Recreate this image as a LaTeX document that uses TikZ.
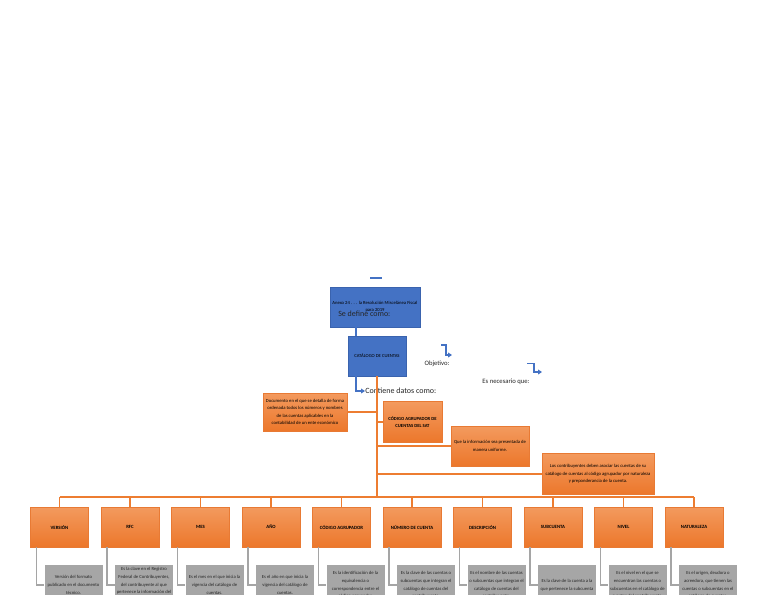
\documentclass[tikz,border=0pt]{standalone}
\usepackage{fontspec}
\setmainfont{Carlito}
\usetikzlibrary{arrows.meta,shadings}
\definecolor{blueC}{HTML}{4472C4}
\definecolor{blueD}{HTML}{3A63AE}
\definecolor{orC}{HTML}{ED7D31}
\definecolor{orT}{HTML}{F39A5E}
\definecolor{orB}{HTML}{EC772B}
\definecolor{orD}{HTML}{E87A34}
\definecolor{greyC}{HTML}{A6A6A6}
\definecolor{greyL}{HTML}{A5A5A5}
\tikzset{
  tiny/.style={font=\fontsize{3.5}{5.6}\selectfont},
  bluebox/.style={tiny, fill=blueC, draw=blueD, line width=0.4pt, align=center, inner sep=1pt, text=black},
  orbox/.style={tiny, top color=orT, bottom color=orB, draw=orD, line width=0.3pt, align=center, inner sep=1pt, text=black},
  botbox/.style={orbox, minimum width=43.5pt, minimum height=30pt, font=\fontsize{3.6}{5}\selectfont\bfseries},
  greybox/.style={tiny, fill=greyC, align=center, inner sep=1pt, minimum width=43.5pt, minimum height=30pt, text=black!85, font=\fontsize{3.5}{5.8}\selectfont},
  blueln/.style={draw=blueC, line width=0.8pt},
  orln/.style={draw=orC, line width=0.8pt},
  greyln/.style={draw=greyL, line width=0.8pt},
  bigtext/.style={font=\fontsize{6}{7}\selectfont, text=black!85, inner sep=0pt},
  midtext/.style={font=\fontsize{5}{6}\selectfont, text=black!85, inner sep=0pt},
  tipb/.style={-{Triangle[length=3pt,width=3.6pt]}}
}
\begin{document}
\begin{tikzpicture}[x=0.75pt,y=-0.75pt]
\useasboundingbox (0,0) rectangle (768,594);
\clip (0,0) rectangle (768,594);
\fill[white] (0,0) rectangle (768,594);

% top dash
\coordinate (d1) at (370,278);
\coordinate (d2) at (382,278);
\draw[blueC, line width=1.6pt] (d1) -- (d2);

% blue boxes
\node[bluebox, minimum width=67.5pt, minimum height=30pt] (anexo) at (375,307) {Anexo 24 . . . la Resolución Miscelánea Fiscal\\para 2019};
\node[bigtext, anchor=west] (define) at (338,313.5) {Se define como:};
\node[bluebox, minimum width=43.5pt, minimum height=30pt] (catalog) at (377,356) {CATÁLOGO DE CUENTAS};

% blue connectors
\coordinate (bx) at (356,0);
\node[bigtext, anchor=west] (contiene) at (365,391) {Contiene datos como:};
\draw[blueln] (anexo.south -| bx) -- (catalog.north -| bx);
\draw[blueln, tipb] (catalog.south -| bx) |- (contiene.west);

\coordinate (o1) at (441,345);
\coordinate (o2) at (452,355);
\draw[blueln, tipb] (o1) -- ++(5,0) |- (o2);
\node[midtext] (objetivo) at (437,364) {Objetivo:};

\coordinate (n1) at (527,363.5);
\coordinate (n2) at (542,372);
\draw[blueln, tipb] (n1) -- ++(7,0) |- (n2);
\node[midtext] (necesario) at (506,382) {Es necesario que:};

% orange side boxes
\node[orbox, minimum width=63pt, minimum height=28.5pt] (doc) at (305,412) {Documento en el que se detalla de forma\\ordenada todos los números y nombres\\de las cuentas aplicables en la\\contabilidad de un ente económico};
\node[orbox, minimum width=44.25pt, minimum height=30.75pt, font=\fontsize{3.5}{5.6}\selectfont\bfseries] (sat) at (412.5,422) {CÓDIGO AGRUPADOR DE\\CUENTAS DEL SAT};
\node[orbox, minimum width=58.5pt, minimum height=30pt] (que) at (490,446) {Que la información sea presentada de\\manera uniforme.};
\node[orbox, minimum width=84pt, minimum height=30.75pt] (los) at (598,474) {Los contribuyentes deben asociar las cuentas de su\\catálogo de cuentas al código agrupador por naturaleza\\y preponderancia de la cuenta.};

% bottom orange boxes
\node[botbox] (b1) at (59.5,527) {VERSIÓN};
\node[botbox] (b2) at (130,527) {RFC};
\node[botbox] (b3) at (200.5,527) {MES};
\node[botbox] (b4) at (271,527) {AÑO};
\node[botbox] (b5) at (341.5,527) {CÓDIGO AGRUPADOR};
\node[botbox] (b6) at (412,527) {NÚMERO DE CUENTA};
\node[botbox] (b7) at (482.5,527) {DESCRIPCIÓN};
\node[botbox] (b8) at (553,527) {SUBCUENTA};
\node[botbox] (b9) at (623.5,527) {NIVEL};
\node[botbox] (b10) at (694,527) {NATURALEZA};

% grey boxes
\node[greybox] (g1) at (73.5,585) {Versión del formato\\publicado en el documento\\técnico.};
\node[greybox] (g2) at (144,585) {Es la clave en el Registro\\Federal de Contribuyentes,\\del contribuyente al que\\pertenece la información del\\catálogo de cuentas.};
\node[greybox] (g3) at (214.5,585) {Es el mes en el que inicia la\\vigencia del catálogo de\\cuentas.};
\node[greybox] (g4) at (285,585) {Es el año en que inicia la\\vigencia del catálogo de\\cuentas.};
\node[greybox] (g5) at (355.5,585) {Es la identificación de la\\equivalencia o\\correspondencia entre el\\código agrupador.};
\node[greybox] (g6) at (426,585) {Es la clave de las cuentas o\\subcuentas que integran el\\catálogo de cuentas del\\contribuyente.};
\node[greybox] (g7) at (496.5,585) {Es el nombre de las cuentas\\o subcuentas que integran el\\catálogo de cuentas del\\contribuyente.};
\node[greybox] (g8) at (567,585) {Es la clave de la cuenta a la\\que pertenece la subcuenta};
\node[greybox] (g9) at (637.5,585) {Es el nivel en el que se\\encuentran las cuentas o\\subcuentas en el catálogo de\\cuentas del contribuyente.};
\node[greybox] (g10) at (708,585) {Es el origen, deudora o\\acreedora, que tienen las\\cuentas o subcuentas en el\\catálogo de cuentas.};

% orange connectors
\coordinate (bus) at (0,497);
\draw[orln] (catalog.south) -- (catalog.south |- bus);
\draw[orln] (doc.east) -- (doc.east -| catalog.south);
\draw[orln] (catalog.south |- sat.west) -- (sat.west);
\draw[orln] (catalog.south |- que.west) -- (que.west);
\draw[orln] (catalog.south |- los.west) -- (los.west);
\draw[orln] (b1.north |- bus) -- (b10.north |- bus);
\foreach \i in {1,...,10}{
  \draw[orln] (b\i.north |- bus) -- (b\i.north);
  \draw[greyln] ([xshift=-17.25pt]b\i.south) |- (g\i.west);
}
\end{tikzpicture}
\end{document}
